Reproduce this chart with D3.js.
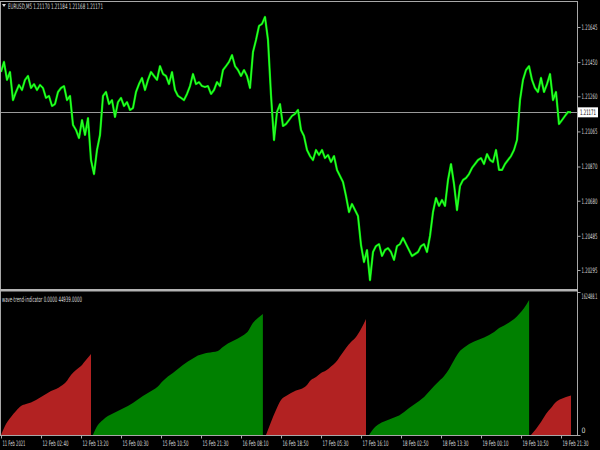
<!DOCTYPE html>
<html><head><meta charset="utf-8">
<script src="https://cdn.jsdelivr.net/npm/d3@7"></script>
<style>html,body{margin:0;padding:0;background:#000;overflow:hidden}</style>
</head><body><svg id="c" width="600" height="450"></svg>
<script>
// ---------- DATA ----------
const symbolTitle = "EURUSD,M5";
const ohlcLast = ["1.21170", "1.21184", "1.21168", "1.21171"];
const lastPrice = 1.21171;
const priceTicks = [1.21645, 1.21450, 1.21260, 1.21065, 1.20870, 1.20680, 1.20485, 1.20295];
const timeTickLabels = ["11 Feb 2021", "12 Feb 02:40", "12 Feb 13:20", "15 Feb 00:30", "15 Feb 10:50",
  "15 Feb 21:30", "16 Feb 08:10", "16 Feb 18:50", "17 Feb 05:30", "17 Feb 16:10", "18 Feb 02:50",
  "18 Feb 13:30", "19 Feb 00:10", "19 Feb 10:50", "19 Feb 21:30"];
const barsPerTick = 128;        // M5 bars between time labels
const totalBars = 1830;
const priceSampleStep = 9.6;    // bars between close samples
const closePrices = [
 1.21395,1.21451,1.21351,1.21395,1.21239,1.21284,1.21323,1.21295,1.21351,1.21373,
 1.21306,1.21328,1.21295,1.21323,1.21306,1.21251,1.21262,1.21206,1.21217,1.21284,
 1.21306,1.21317,1.21239,1.21262,1.21101,1.21073,1.21028,1.21128,1.21045,1.21139,
 1.20906,1.20828,1.20962,1.21045,1.21262,1.21284,1.21217,1.21239,1.21145,1.21228,
 1.21251,1.21206,1.21228,1.21184,1.21195,1.21284,1.21328,1.21362,1.21295,1.21351,
 1.21395,1.21373,1.21351,1.21428,1.21384,1.21373,1.21328,1.21395,1.21295,1.21262,
 1.21251,1.21239,1.21273,1.21317,1.21384,1.21328,1.21339,1.21317,1.21312,1.21317,
 1.21273,1.21295,1.21339,1.21317,1.21406,1.21428,1.21451,1.21489,1.21428,1.21406,
 1.21373,1.21406,1.21373,1.21306,1.21506,1.21573,1.21651,1.21662,1.21701,1.21573,
 1.21267,1.21017,1.21173,1.21217,1.21095,1.21106,1.21128,1.21151,1.21162,1.21184,
 1.21073,1.21039,1.20962,1.20928,1.20906,1.20962,1.20934,1.20962,1.20917,1.20934,
 1.20895,1.20928,1.20851,1.20817,1.20784,1.20706,1.20617,1.20662,1.20628,1.20595,
 1.20434,1.20339,1.20406,1.20239,1.20395,1.20428,1.20439,1.20373,1.20406,1.20417,
 1.20395,1.20351,1.20428,1.20439,1.20473,1.20439,1.20406,1.20373,1.20384,1.20395,
 1.20428,1.20439,1.20395,1.20484,1.20617,1.20695,1.20651,1.20684,1.20651,1.20795,
 1.20884,1.20773,1.20628,1.20762,1.20795,1.20806,1.20828,1.20862,1.20884,1.20906,
 1.20917,1.20884,1.20939,1.20906,1.20895,1.20962,1.20851,1.20851,1.20884,1.20906,
 1.20928,1.20962,1.21017,1.21239,1.21351,1.21406,1.21428,1.21351,1.21306,1.21284,
 1.21362,1.21284,1.21328,1.21384,1.21239,1.21284,1.21106,1.21128,1.21151,1.21173,
 1.21171
];
const indicatorName = "wave-trend-indicator";
const indicatorBuffers = ["0.0000", "44939.0000"];
const indicatorMax = 162488.1;
const waveStartBar = [0, 294, 848, 1178, 1696];
const waveDirection = ["down", "up", "down", "up", "down"];
const waveStep = 16;            // bars between wave samples
const waveValues = [
 [0,12499,20453,27271,32953,35225,36930,39770,43179,46588,49997,52270,55679,60224,68178,73860,78405,85223,92040],
 [0,11363,17045,21590,24430,27271,30112,32953,36362,40339,44316,47725,51134,55111,61360,66474,70451,74996,79541,
  83518,86927,90336,92040,93404,94313,95449,99994,103971,106812,109653,113062,117607,127266,132947,137492],
 [0,14772,28408,39771,44316,47725,50565,52270,55679,62497,65905,70451,73292,77837,82950,90904,98858,105676,111357,120448,131811],
 [0,7954,12499,15340,17613,19885,22158,26135,30680,34657,38634,43179,49429,55679,61360,67042,74996,85223,94313,
  99426,103403,106244,108517,110789,113630,117039,121584,124425,127834,131811,137492,144310,153401],
 [0,6818,14772,23862,30680,37498,40907,43179,44939]
];

// ---------- DRAW ----------
const svg = d3.select("#c");
const FONT = "'DejaVu Sans Condensed','DejaVu Sans',sans-serif";
const TXT = "#d8d8d8", GRID = "#a8a8a8";
const right = 577, mainBot = 289, subTop = 292, subBot = 435;

// squeeze a text horizontally to a target width (MT4 condensed look)
function fit(sel, target) {
  sel.each(function (d, i) {
    const t = d3.select(this);
    const w = this.getComputedTextLength();
    const tw = typeof target === "function" ? target(d, i) : target;
    const s = Math.min(1, tw / w);
    const x0 = +t.attr("x") || 0;
    t.attr("transform", `translate(${x0},0) scale(${s},1) translate(${-x0},0)`);
  });
}

svg.append("rect").attr("width", 600).attr("height", 450).attr("fill", "#000");

const x = d3.scaleLinear().domain([0, totalBars]).range([1, 1 + totalBars / 3.2]);
const yP = d3.scaleLinear().domain([1.20184, 1.21795]).range([290, 0]);
const yW = d3.scaleLinear().domain([0, indicatorMax]).range([subBot, subTop]);

// bid line
svg.append("line").attr("x1", 0).attr("x2", right).attr("y1", Math.round(yP(lastPrice)) + 0.5)
  .attr("y2", Math.round(yP(lastPrice)) + 0.5).attr("stroke", "#9a9a9a").attr("stroke-width", 1);

// price line
const line = d3.line().x((d, i) => x(i * priceSampleStep)).y(d => yP(d));
svg.append("path").datum(closePrices).attr("d", line).attr("fill", "none")
  .attr("stroke", "#00e000").attr("stroke-width", 2.2).attr("stroke-linejoin", "round");
svg.append("path").datum(closePrices).attr("d", line).attr("fill", "none")
  .attr("stroke", "#33ff33").attr("stroke-width", 1).attr("stroke-linejoin", "round");

// wave areas
waveValues.forEach((vals, k) => {
  const area = d3.area()
    .x((d, j) => x(waveStartBar[k] + j * waveStep))
    .y0(yW(0)).y1(d => yW(d)).curve(d3.curveMonotoneX);
  svg.append("path").datum(vals).attr("d", area)
    .attr("fill", waveDirection[k] === "up" ? "#008000" : "#b22222");
});

// frame
const g = svg.append("g").attr("stroke", GRID).attr("fill", "none");
g.append("line").attr("x1", 0).attr("x2", right).attr("y1", 1.5).attr("y2", 1.5);
g.append("line").attr("x1", 0.5).attr("x2", 0.5).attr("y1", 1).attr("y2", subBot);
g.append("line").attr("x1", right + 0.5).attr("x2", right + 0.5).attr("y1", 1).attr("y2", subBot + 1);
g.append("line").attr("x1", 0).attr("x2", right).attr("y1", subBot + 0.5).attr("y2", subBot + 0.5);
svg.append("rect").attr("x", 0).attr("y", mainBot).attr("width", right + 1).attr("height", 2.5).attr("fill", "#b4b4b4");

// right price axis
const ax = svg.append("g").attr("transform", `translate(${right + 0.5},0)`)
  .call(d3.axisRight(yP).tickValues(priceTicks).tickSize(3).tickPadding(1).tickFormat(d3.format(".5f")));
ax.select(".domain").remove();
ax.selectAll("line").attr("stroke", GRID);
ax.selectAll("text").attr("fill", TXT).attr("font-family", FONT).attr("font-size", 7.5).call(fit, 16);

// last price box
const ly = yP(lastPrice);
svg.append("rect").attr("x", right + 1).attr("y", ly - 5).attr("width", 20).attr("height", 10).attr("fill", "#fff");
svg.append("text").attr("x", right + 3).attr("y", ly + 2.5).text(lastPrice.toFixed(5))
  .attr("fill", "#000").attr("font-family", FONT).attr("font-size", 7.5).call(fit, 16);

// indicator axis
const wax = svg.append("g").attr("transform", `translate(${right + 0.5},0)`)
  .call(d3.axisRight(yW).tickValues([indicatorMax, 0]).tickSize(3).tickPadding(1)
    .tickFormat(d => d === 0 ? "0" : d3.format(".1f")(d)));
wax.select(".domain").remove();
wax.selectAll("line").attr("stroke", GRID);
wax.selectAll("text").attr("fill", TXT).attr("font-family", FONT).attr("font-size", 7.5);
wax.selectAll(".tick").filter(d => d !== 0).select("text").attr("dy", "0.9em").call(fit, 16);
wax.selectAll(".tick").filter(d => d === 0).select("text").attr("dy", "-0.3em").call(fit, 4);

// bottom time axis
const bx = svg.append("g").attr("transform", `translate(0,${subBot + 0.5})`)
  .call(d3.axisBottom(x).tickValues(d3.range(timeTickLabels.length).map(k => k * barsPerTick))
    .tickSize(3).tickPadding(2).tickFormat((d, i) => timeTickLabels[i]));
bx.select(".domain").remove();
bx.selectAll("line").attr("stroke", GRID);
bx.selectAll("text").attr("fill", TXT).attr("font-family", FONT).attr("font-size", 7.5)
  .attr("text-anchor", "start").attr("x", 1).call(fit, (d, i) => i === 0 ? 23 : 26);

// titles
svg.append("path").attr("d", "M2,4 L6,4 L4,7 Z").attr("fill", TXT);
svg.append("text").attr("x", 8).attr("y", 9).text(symbolTitle + " " + ohlcLast.join(" "))
  .attr("fill", TXT).attr("font-family", FONT).attr("font-size", 7.5).call(fit, 95);
svg.append("text").attr("x", 2).attr("y", 302).text(indicatorName + " " + indicatorBuffers.join(" "))
  .attr("fill", TXT).attr("font-family", FONT).attr("font-size", 7.5).call(fit, 80);
</script></body></html>
